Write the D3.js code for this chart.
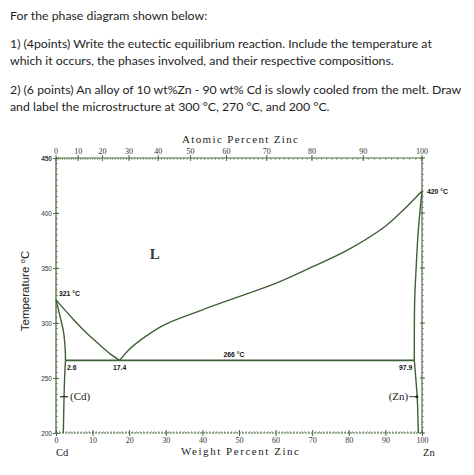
<!DOCTYPE html>
<html><head><meta charset="utf-8">
<script src="https://cdn.jsdelivr.net/npm/d3@7"></script>
<style>
html,body{margin:0;padding:0;background:#fff;}
svg{display:block;}
.ser{font-family:"Liberation Serif","DejaVu Serif",serif;}
</style></head>
<body>
<script>
// ---- Data ----
const questionLines = [
  "For the phase diagram shown below:",
  "1) (4points) Write the eutectic equilibrium reaction. Include the temperature at",
  "which it occurs, the phases involved, and their respective compositions.",
  "2) (6 points) An alloy of 10 wt%Zn - 90 wt% Cd is slowly cooled from the melt. Draw",
  "and label the microstructure at 300 °C, 270 °C, and 200 °C."
];
const tempTicks = [200, 250, 300, 350, 400, 450];
const wtTicks = [0, 10, 20, 30, 40, 50, 60, 70, 80, 90, 100];
const atTicks = [0, 10, 20, 30, 40, 50, 60, 70, 80, 90, 100];
// [wt% Zn, °C]
const liquidusCd = [[0,321],[4,306],[8,292],[12,280],[15,271.5],[17.4,266]];
const liquidusZn = [[17.4,266],[20,276],[25,289],[30,299],[40,312],[50,324],[60,336],[70,351],[80,367],[90,388],[95,403],[100,420]];
const solidusCd = [[0,321],[1.1,306],[2.1,291],[2.5,277],[2.6,266]];
const solvusCd = [[2.6,266],[2.35,250],[2.15,225],[2.0,200]];
const solidusZn = [[100,420],[99.4,400],[98.9,380],[98.4,350],[98.0,320],[97.9,266]];
const solvusZn = [[97.9,266],[98.3,250],[98.7,232],[99.0,200]];
const eutectic = {T:266, left:2.6, mid:17.4, right:97.9};
const meltCd = 321, meltZn = 420;

// ---- Layout ----
const W = 474, H = 475;
const svg = d3.select("body").append("svg").attr("width", W).attr("height", H);
const x = d3.scaleLinear().domain([0,100]).range([56,422]);
const y = d3.scaleLinear().domain([200,450]).range([433,158]);
const green = "#3f5f37";
const axisCol = "#4d6b45";
const MZn = 65.38, MCd = 112.41;
const atToWt = a => a===0?0:(a===100?100: 100*a*MZn/(a*MZn + (100-a)*MCd));

// question text
svg.append("g").selectAll("text").data(questionLines).join("text")
  .attr("x", 10)
  .attr("y", (d,i)=>[20,48,65,94,111][i])
  .attr("font-family","Lato, 'Open Sans', sans-serif")
  .attr("font-size", 12.3)
  .attr("fill","#1e1e1e")
  .text(d=>d);

const g = svg.append("g");

// ---- Axes ----
g.append("line").attr("x1",x(0)).attr("x2",x(100)).attr("y1",y(450)).attr("y2",y(450)).attr("stroke",axisCol).attr("stroke-width",1.2);
g.append("line").attr("x1",x(0)).attr("x2",x(100)).attr("y1",y(200)).attr("y2",y(200)).attr("stroke",axisCol).attr("stroke-width",1.2).attr("stroke-dasharray","2,1");
g.append("line").attr("x1",x(0)).attr("x2",x(0)).attr("y1",y(450)).attr("y2",y(200)).attr("stroke",axisCol).attr("stroke-width",1.3);
g.append("line").attr("x1",x(100)).attr("x2",x(100)).attr("y1",y(450)).attr("y2",y(200)).attr("stroke",axisCol).attr("stroke-width",1.2);

// bottom axis (weight %)
const bottom = d3.axisBottom(x).tickValues(wtTicks).tickSize(3).tickFormat(d3.format("d"));
const gb = g.append("g").attr("transform",`translate(0,${y(200)})`).call(bottom);
gb.select(".domain").remove();
gb.attr("font-family",null).attr("font-size",null);
gb.selectAll(".tick line").attr("stroke",axisCol).attr("y1",-3);
gb.selectAll("text").attr("class","ser").attr("font-size",8).attr("fill","#333").attr("dy","0.55em").attr("y",6);
g.append("g").selectAll("line").data(d3.range(0,101,1)).join("line")
  .attr("x1",d=>x(d)).attr("x2",d=>x(d)).attr("y1",y(200)-1.8).attr("y2",y(200))
  .attr("stroke",axisCol).attr("stroke-width",0.7);

// top axis (atomic %)
const gt = g.append("g").attr("transform",`translate(0,${y(450)})`);
gt.selectAll("line.major").data(atTicks).join("line").attr("class","major")
  .attr("x1",d=>x(atToWt(d))).attr("x2",d=>x(atToWt(d))).attr("y1",-3).attr("y2",3)
  .attr("stroke",axisCol).attr("stroke-width",1);
gt.selectAll("line.minor").data(d3.range(0,101,1)).join("line").attr("class","minor")
  .attr("x1",d=>x(atToWt(d))).attr("x2",d=>x(atToWt(d))).attr("y1",0).attr("y2",1.8)
  .attr("stroke",axisCol).attr("stroke-width",0.7);
gt.selectAll("text").data(atTicks).join("text")
  .attr("class","ser")
  .attr("x",d=>x(atToWt(d))).attr("y",-4)
  .attr("text-anchor","middle")
  .attr("font-size",8).attr("fill","#333")
  .text(d=>d);

// left axis (temperature)
const left = d3.axisLeft(y).tickValues(tempTicks).tickSize(3).tickFormat(d3.format("d"));
const gl = g.append("g").attr("transform",`translate(${x(0)},0)`).call(left);
gl.select(".domain").remove();
gl.attr("font-family",null).attr("font-size",null);
gl.selectAll(".tick line").attr("stroke",axisCol).attr("x1",3);
gl.selectAll("text").attr("font-family","'Liberation Sans', sans-serif").attr("font-size",6.5).attr("fill","#333").attr("x",-4)
  .attr("font-weight",d=>d===450?"bold":"normal");
g.append("g").selectAll("line").data(d3.range(200,451,5)).join("line")
  .attr("x1",x(0)).attr("x2",x(0)+1.8).attr("y1",d=>y(d)).attr("y2",d=>y(d))
  .attr("stroke",axisCol).attr("stroke-width",0.7);
g.append("g").selectAll("line").data(d3.range(200,451,5)).join("line")
  .attr("x1",x(100)).attr("x2",x(100)+(1.8)).attr("y1",d=>y(d)).attr("y2",d=>y(d))
  .attr("stroke",axisCol).attr("stroke-width",0.7);
g.append("g").selectAll("line").data(tempTicks).join("line")
  .attr("x1",x(100)-2).attr("x2",x(100)+3).attr("y1",d=>y(d)).attr("y2",d=>y(d))
  .attr("stroke",axisCol).attr("stroke-width",1);

// axis titles
svg.append("text").attr("class","ser").attr("x",182).attr("y",142.5)
  .attr("font-size",11).attr("fill","#222")
  .attr("textLength",116).attr("lengthAdjust","spacing")
  .text("Atomic Percent Zinc");
svg.append("text").attr("class","ser").attr("x",181).attr("y",455)
  .attr("font-size",11).attr("fill","#222")
  .attr("textLength",118).attr("lengthAdjust","spacing")
  .text("Weight Percent Zinc");
svg.append("text").attr("class","ser").attr("x",x(0)).attr("y",456).attr("text-anchor","start")
  .attr("font-size",10.5).attr("fill","#222").text("Cd");
svg.append("text").attr("class","ser").attr("x",x(100)+1).attr("y",456).attr("text-anchor","start")
  .attr("font-size",10.5).attr("fill","#222").text("Zn");
const yt = svg.append("text").attr("transform","translate(29,291) rotate(-90)").attr("text-anchor","middle")
  .attr("font-family","'Liberation Sans', sans-serif").attr("font-size",11.5).attr("fill","#222");
yt.append("tspan").text("Temperature  ");
yt.append("tspan").attr("dy",-4).attr("font-size",8).text("o");
yt.append("tspan").attr("dy",4).text("C");

// ---- Phase boundaries ----
const line = d3.line().x(d=>x(d[0])).y(d=>y(d[1])).curve(d3.curveCatmullRom.alpha(0.5));
[liquidusCd, liquidusZn, solidusCd, solvusCd, solidusZn, solvusZn].forEach(pts=>{
  g.append("path").attr("d",line(pts)).attr("fill","none").attr("stroke",green).attr("stroke-width",1.4);
});
g.append("line").attr("x1",x(eutectic.left)).attr("x2",x(eutectic.right))
  .attr("y1",y(eutectic.T)).attr("y2",y(eutectic.T)).attr("stroke",green).attr("stroke-width",1.6);

// ---- Labels ----
const lab = (tx,ty,t,anchor="start")=>svg.append("text").attr("x",tx).attr("y",ty).attr("text-anchor",anchor)
  .attr("font-family","'Liberation Sans', Arial, sans-serif").attr("font-size",6.8).attr("font-weight","bold").attr("fill","#111").text(t);
lab(x(0)+3, y(meltCd)-4, meltCd+" °C");
lab(x(100)+5, y(meltZn)+2.5, meltZn+" °C");
lab(x(eutectic.left)+1.5, y(eutectic.T)+10, String(eutectic.left));
lab(x(eutectic.mid), y(eutectic.T)+10, String(eutectic.mid), "middle");
lab(x(eutectic.right)-2, y(eutectic.T)+10, String(eutectic.right), "end");
lab(x(50)-5, y(eutectic.T)-3, eutectic.T+" °C", "middle");

svg.append("text").attr("x",x(27)).attr("y",y(358)).attr("text-anchor","middle")
  .attr("font-family","'Liberation Serif', serif").attr("font-size",15).attr("font-weight","bold").attr("fill","#2e3f2a").text("L");

// phase labels
const Tlab = 233;
g.append("line").attr("x1",x(2.2)-4).attr("x2",x(2.2)+4).attr("y1",y(Tlab)).attr("y2",y(Tlab)).attr("stroke","#222").attr("stroke-width",1.2);
svg.append("text").attr("x",x(2.2)+6).attr("y",y(Tlab)+3.5)
  .attr("font-family","'Liberation Serif', serif").attr("font-size",11).attr("fill","#222").text("(Cd)");
g.append("line").attr("x1",x(96.5)).attr("x2",x(98.6)).attr("y1",y(Tlab)).attr("y2",y(Tlab)).attr("stroke","#222").attr("stroke-width",0.9);
g.append("circle").attr("cx",x(98.6)).attr("cy",y(Tlab)).attr("r",1.5).attr("fill","#222");
svg.append("text").attr("x",x(96.5)-1).attr("y",y(Tlab)+3.5).attr("text-anchor","end")
  .attr("font-family","'Liberation Serif', serif").attr("font-size",11).attr("fill","#222").text("(Zn)");
</script>
</body></html>
